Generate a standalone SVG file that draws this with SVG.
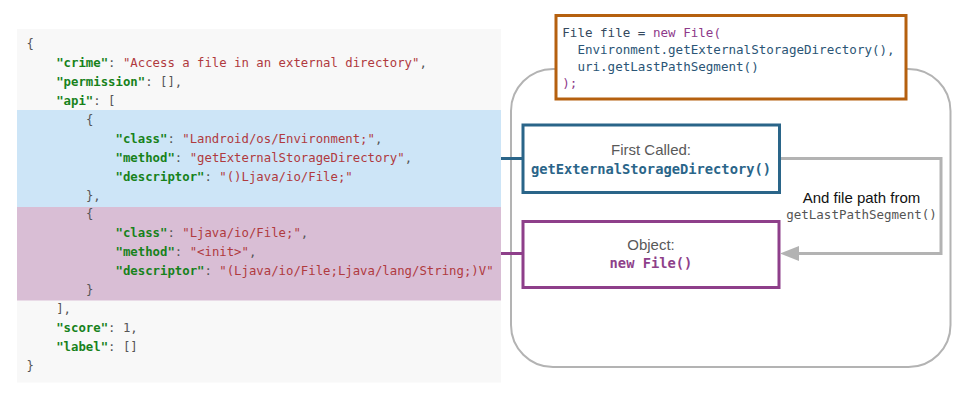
<svg xmlns="http://www.w3.org/2000/svg" width="960" height="393" viewBox="0 0 960 393">
<style>
.code{font-family:"DejaVu Sans Mono","Liberation Mono",monospace;font-size:12.32px;fill:#555555;}
.k{fill:#17821b;font-weight:bold;}
.s{fill:#b03a3e;}
.sans{font-family:"Liberation Sans",Arial,sans-serif;font-size:15px;}
.mono{font-family:"DejaVu Sans Mono","Liberation Mono",monospace;}
.conn{fill:none;stroke-width:3;}
</style>
<defs>
<marker id="arr" markerUnits="userSpaceOnUse" viewBox="0 0 19 15" markerWidth="19" markerHeight="15" refX="2" refY="7.5" orient="auto">
<path d="M0,0 L19,7.5 L0,15 Z" fill="#b3b3b3"/>
</marker>
</defs>
<rect width="960" height="393" fill="#ffffff"/>

<g id="code">
<rect x="17" y="29" width="484" height="353.5" fill="#f8f8f8"/>
<rect x="17" y="110" width="484" height="97" fill="#cde5f7"/>
<rect x="17" y="207" width="484" height="93.5" fill="#d9bed5"/>
<g class="code" xml:space="preserve">
<text x="26.5" y="48">{</text>
<text x="56.2" y="67"><tspan class="k">"crime"</tspan>: <tspan class="s">"Access a file in an external directory"</tspan>,</text>
<text x="56.2" y="86"><tspan class="k">"permission"</tspan>: [],</text>
<text x="56.2" y="104.5"><tspan class="k">"api"</tspan>: [</text>
<text x="85.9" y="123.5">{</text>
<text x="115.5" y="142.5"><tspan class="k">"class"</tspan>: <tspan class="s">"Landroid/os/Environment;"</tspan>,</text>
<text x="115.5" y="161.5"><tspan class="k">"method"</tspan>: <tspan class="s">"getExternalStorageDirectory"</tspan>,</text>
<text x="115.5" y="180.5"><tspan class="k">"descriptor"</tspan>: <tspan class="s">"()Ljava/io/File;"</tspan></text>
<text x="85.9" y="199.5">},</text>
<text x="85.9" y="218">{</text>
<text x="115.5" y="237"><tspan class="k">"class"</tspan>: <tspan class="s">"Ljava/io/File;"</tspan>,</text>
<text x="115.5" y="256"><tspan class="k">"method"</tspan>: <tspan class="s">"&lt;init&gt;"</tspan>,</text>
<text x="115.5" y="275"><tspan class="k">"descriptor"</tspan>: <tspan class="s">"(Ljava/io/File;Ljava/lang/String;)V"</tspan></text>
<text x="85.9" y="294">}</text>
<text x="56.2" y="313">],</text>
<text x="56.2" y="332"><tspan class="k">"score"</tspan>: 1,</text>
<text x="56.2" y="351"><tspan class="k">"label"</tspan>: []</text>
<text x="26.5" y="370">}</text>
</g>
</g>

<g id="container">
<rect x="511" y="69" width="439.5" height="298" rx="42" ry="42" fill="#ffffff" stroke="#b3b3b3" stroke-width="2"/>
</g>

<g id="snippet">
<rect x="556" y="15.5" width="350" height="83.5" fill="#ffffff" stroke="#b5600f" stroke-width="3"/>
<g class="mono" font-size="12.55" xml:space="preserve">
<text x="562.3" y="37.3" fill="#34495e">File file = <tspan fill="#8e3a8a">new File(</tspan></text>
<text x="577.4" y="54" fill="#2b5576">Environment.getExternalStorageDirectory(),</text>
<text x="577.4" y="70.5" fill="#2b5576">uri.getLastPathSegment()</text>
<text x="562.3" y="87" fill="#8e3a8a">);</text>
</g>
</g>

<g id="first-called">
<rect x="523" y="125" width="256.5" height="67.5" fill="#ffffff" stroke="#2a6589" stroke-width="3"/>
<text x="651" y="155" class="sans" fill="#595959" text-anchor="middle">First Called:</text>
<text x="651" y="174" class="mono" font-size="13.75" font-weight="bold" fill="#2a6589" text-anchor="middle">getExternalStorageDirectory()</text>
</g>

<g id="object">
<rect x="523" y="221.5" width="256" height="66" fill="#ffffff" stroke="#8e3f8a" stroke-width="3"/>
<text x="651" y="250" class="sans" fill="#595959" text-anchor="middle">Object:</text>
<text x="651" y="268.3" class="mono" font-size="13.75" font-weight="bold" fill="#8e3f8a" text-anchor="middle">new File()</text>
</g>

<g id="connectors">
<line x1="501" y1="158.5" x2="523" y2="158.5" class="conn" stroke="#2a6589"/>
<line x1="501" y1="253.5" x2="523" y2="253.5" class="conn" stroke="#8e3f8a"/>
<path d="M781,158.5 H941 V253.5 H797" class="conn" stroke="#b3b3b3" marker-end="url(#arr)"/>
<text x="861.5" y="203.3" class="sans" fill="#111111" text-anchor="middle">And file path from</text>
<text x="861.5" y="219.3" class="mono" font-size="12.5" fill="#555555" text-anchor="middle">getLastPathSegment()</text>
</g>
</svg>
